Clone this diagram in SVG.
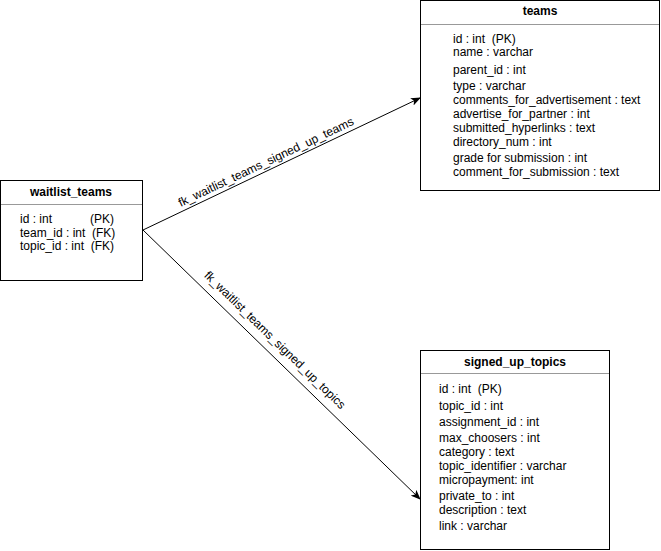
<svg xmlns="http://www.w3.org/2000/svg" width="661" height="551" viewBox="0 0 661 551">
<style>
text{font-family:"Liberation Sans",Arial,sans-serif;font-size:12px;fill:#000;white-space:pre}
.t{font-weight:bold;text-anchor:middle}
.box{fill:#fff;stroke:#000;stroke-width:1}
.div{stroke:#999;stroke-width:1}
.edge{stroke:#000;stroke-width:1;fill:none}
</style>
<defs>
<marker id="arr" viewBox="0 0 10 8" refX="9" refY="4" markerWidth="10" markerHeight="8" markerUnits="userSpaceOnUse" orient="auto">
<path d="M0,0 L10,4 L0,8 L2.5,4 Z" fill="#000"/>
</marker>
</defs>
<rect width="661" height="551" fill="#fff"/>
<g id="connectors">
<line class="edge" x1="143" y1="230" x2="420" y2="98" marker-end="url(#arr)"/>
<line class="edge" x1="143" y1="230" x2="420" y2="499" marker-end="url(#arr)"/>
<text transform="translate(266,162) rotate(-25.4)" text-anchor="middle" dominant-baseline="central">fk_waitlist_teams_signed_up_teams</text>
<text transform="translate(275,340) rotate(44.2)" text-anchor="middle" dominant-baseline="central">fk_waitlist_teams_signed_up_topics</text>
</g>
<g id="teams">
<rect class="box" x="420.5" y="0.5" width="239" height="190"/>
<line class="div" x1="421" y1="24.5" x2="659" y2="24.5"/>
<text class="t" x="540" y="15">teams</text>
<text x="453" y="42.5" xml:space="preserve">id : int  (PK)</text>
<text x="453" y="56">name : varchar</text>
<text x="453" y="74">parent_id : int</text>
<text x="453" y="90">type : varchar</text>
<text x="453" y="104">comments_for_advertisement : text</text>
<text x="453" y="118">advertise_for_partner : int</text>
<text x="453" y="132">submitted_hyperlinks : text</text>
<text x="453" y="146">directory_num : int</text>
<text x="453" y="161.5">grade for submission : int</text>
<text x="453" y="176">comment_for_submission : text</text>
</g>
<g id="waitlist_teams">
<rect class="box" x="0.5" y="180.5" width="142" height="100"/>
<line class="div" x1="1" y1="204.5" x2="142" y2="204.5"/>
<text class="t" x="71" y="196">waitlist_teams</text>
<text x="20" y="223">id : int<tspan x="90">(PK)</tspan></text>
<text x="20" y="237" xml:space="preserve">team_id : int  (FK)</text>
<text x="20" y="250" xml:space="preserve">topic_id : int  (FK)</text>
</g>
<g id="signed_up_topics">
<rect class="box" x="420.5" y="350.5" width="189" height="199"/>
<line class="div" x1="421" y1="373.5" x2="609" y2="373.5"/>
<text class="t" x="515" y="366">signed_up_topics</text>
<text x="439" y="393" xml:space="preserve">id : int  (PK)</text>
<text x="439" y="410">topic_id : int</text>
<text x="439" y="426">assignment_id : int</text>
<text x="439" y="442">max_choosers : int</text>
<text x="439" y="456">category : text</text>
<text x="439" y="470">topic_identifier : varchar</text>
<text x="439" y="484">micropayment: int</text>
<text x="439" y="500">private_to : int</text>
<text x="439" y="514">description : text</text>
<text x="439" y="530">link : varchar</text>
</g>
</svg>
